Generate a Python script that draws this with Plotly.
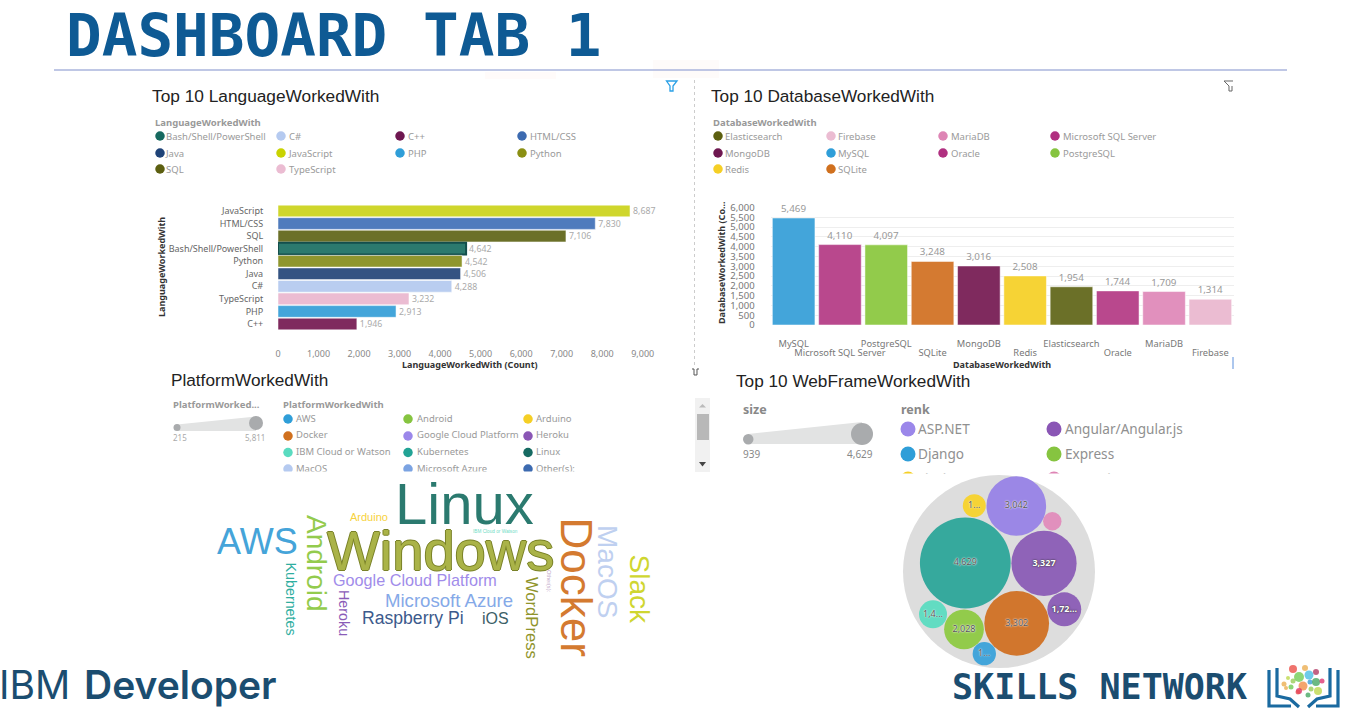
import plotly.graph_objects as go

W, H = 1354, 717
SANS = "Noto Sans"
CLOUD = "Liberation Sans"

# ---- data ----
lang_names = ["JavaScript", "HTML/CSS", "SQL", "Bash/Shell/PowerShell", "Python", "Java", "C#", "TypeScript", "PHP", "C++"]
lang_values = [8687, 7830, 7106, 4642, 4542, 4506, 4288, 3232, 2913, 1946]
lang_colors = ["#cfd62c", "#4f7bbd", "#6b7028", "#2c7a6e", "#8f962e", "#345382", "#b9cdf0", "#ebbcd2", "#43a5da", "#7f2a5e"]

db_names = ["MySQL", "Microsoft SQL Server", "PostgreSQL", "SQLite", "MongoDB", "Redis", "Elasticsearch", "Oracle", "MariaDB", "Firebase"]
db_values = [5469, 4110, 4097, 3248, 3016, 2508, 1954, 1744, 1709, 1314]
db_colors = ["#43a5da", "#b9488d", "#92cb4b", "#d47a31", "#7f2a5e", "#f6d335", "#6b7028", "#b9488d", "#e190bd", "#ebbcd2"]

lang_legend = ["Bash/Shell/PowerShell", "C#", "C++", "HTML/CSS", "Java", "JavaScript", "PHP", "Python", "SQL", "TypeScript"]
lang_legend_colors = ["#16695f", "#b5caf0", "#6e1750", "#3c6ab0", "#1f4378", "#c9d300", "#2f9ed8", "#8a8f13", "#5c5f10", "#ebbcd2"]
db_legend = ["Elasticsearch", "Firebase", "MariaDB", "Microsoft SQL Server", "MongoDB", "MySQL", "Oracle", "PostgreSQL", "Redis", "SQLite"]
db_legend_colors = ["#5c5f10", "#ebbcd2", "#de85b5", "#b03080", "#6e1750", "#2f9ed8", "#b03080", "#86c440", "#f5cf25", "#d0701e"]
platform_legend = ["AWS", "Android", "Arduino", "Docker", "Google Cloud Platform", "Heroku", "IBM Cloud or Watson", "Kubernetes", "Linux", "MacOS", "Microsoft Azure", "Other(s):"]
platform_legend_colors = ["#2f9ed8", "#86c440", "#f5cf25", "#d0701e", "#9b87ea", "#8a56b5", "#5adbc0", "#22a395", "#166a62", "#b5caf0", "#7ba3e2", "#3c6ab0"]
web_legend = ["ASP.NET", "Angular/Angular.js", "Django", "Express", "Flask", "Laravel"]
web_legend_colors = ["#9b87ea", "#8a56b5", "#2f9ed8", "#86c440", "#f5cf25", "#de85b5"]

cloud_words = ["Linux", "Windows", "AWS", "Android", "Docker", "MacOS", "Slack", "Arduino", "IBM Cloud or Watson",
               "Google Cloud Platform", "Microsoft Azure", "Raspberry Pi", "iOS", "Kubernetes", "Heroku", "WordPress", "Other(s):"]
cloud_sizes = [58, 56, 36, 28, 44, 28, 28, 11, 4.7, 16.2, 18.6, 17.6, 16, 14.3, 14.3, 16.6, 5.6]
cloud_colors = ["#2b7a6f", "#aab348", "#45a4d9", "#93cb4d", "#d47a30", "#bfd0f0", "#cfd630", "#f7d23c", "#6fdcc6",
                "#a18cea", "#85a9e8", "#3c5a8c", "#3d6068", "#2fae9f", "#8a5cb8", "#8f942b", "#c0a8c8"]
cloud_angles = [0, 0, 0, 90, 90, 90, 90, 0, 0, 0, 0, 0, 0, 90, 90, 90, 90]
cloud_x = [464, 440.5, 257, 316.5, 576.5, 607.5, 639.5, 368.5, 496, 414.5, 448.5, 413, 495.5, 291, 344, 532, 549]
cloud_y = [503, 550.5, 541, 563.5, 587, 571.5, 589, 517, 531.5, 580, 600.5, 618, 618, 598.5, 613, 618, 581]

web_labels = ["4,629", "3,327", "3,302", "3,042", "2,028", "1,72...", "1,4...", "1...", "1...", ""]
web_values = [4629, 3327, 3302, 3042, 2028, 1727, 1428, 1190, 1173, 939]
web_colors = ["#36a99d", "#8f63b8", "#d1762d", "#9b87e6", "#92cb4b", "#8f63b8", "#62dcc2", "#43a5da", "#f6d335", "#e190bd"]
web_cx = [965.3, 1044, 1016.7, 1016.3, 964, 1064.3, 933, 984.3, 974.3, 1052.3]
web_cy = [563, 563.3, 623.3, 506, 629.3, 609.3, 614.3, 653.7, 505.7, 521.3]

logo_x = [1293, 1305, 1316, 1293, 1299, 1309, 1284, 1286, 1291, 1303, 1310, 1316, 1322, 1299, 1311, 1318, 1308, 1298, 1288]
logo_y = [669, 668, 672, 681, 677, 675, 684, 688, 687, 686, 682, 682, 681, 691, 689, 691, 695, 692, 678]
logo_d = [8, 6, 6, 5, 10, 9, 5, 4, 5, 9, 5, 8, 5, 6, 5, 8, 5, 5, 4]
logo_c = ["#e8382f", "#e8a33a", "#a81f4f", "#8cc63f", "#5cc43c", "#30b5e0", "#e8a33a", "#e8a33a", "#5cc43c", "#ef7f2f", "#1f8fd0",
          "#2e9b4f", "#d81b60", "#d81b60", "#8cc63f", "#b5d334", "#2e9b4f", "#e84a4a", "#b5d334"]


def px(x): return x / W
def py(y): return 1 - y / H


fig = go.Figure()
annotations, shapes = [], []


def text(x, y, s, size=9, color="#999", xa="left", ya="middle", family=SANS, angle=0, weight=None, shadow=None):
    f = dict(size=size, color=color, family=family)
    if weight: f["weight"] = weight
    if shadow: f["shadow"] = shadow
    annotations.append(dict(x=px(x), y=py(y), xref="paper", yref="paper", text=s, showarrow=False,
                            xanchor=xa, yanchor=ya, textangle=angle, font=f, borderpad=0, borderwidth=0))


def path(d, color=None, fill=None, lw=1, dash=None, layer="above"):
    shapes.append(dict(type="path", xref="paper", yref="paper", path=d, layer=layer,
                       line=dict(color=color or "rgba(0,0,0,0)", width=lw, dash=dash), fillcolor=fill or "rgba(0,0,0,0)"))


def P(*pts):
    return "M" + " L".join(f"{px(a):.5f},{py(b):.5f}" for a, b in pts)


def rect(x0, y0, x1, y1, fill, layer="below"):
    shapes.append(dict(type="rect", xref="paper", yref="paper", x0=px(x0), x1=px(x1), y0=py(y0), y1=py(y1),
                       fillcolor=fill, line=dict(width=0), layer=layer))


def pane_axes(n, x0, y0, x1, y1):
    hidden = dict(visible=False, fixedrange=True)
    return {f"xaxis{n}": dict(domain=[px(x0), px(x1)], range=[x0, x1], anchor=f"y{n}", **hidden),
            f"yaxis{n}": dict(domain=[py(y1), py(y0)], range=[y1, y0], anchor=f"x{n}", **hidden)}


layout_axes = {}
CANVAS, PLAT, WEB = 4, 5, 6
layout_axes.update(pane_axes(CANVAS, 0, 0, W, H))
layout_axes.update(pane_axes(PLAT, 280, 411, 690, 471.5))
layout_axes.update(pane_axes(WEB, 900, 420, 1200, 473.5))


def legend(names, colors, sx, tx, sy, ty, n, size=9.5, msize=9.5, tcolor="#9a9a9a"):
    cols = len(sx)
    xs = [sx[i % cols] for i in range(len(names))]
    ys = [sy[i // cols] for i in range(len(names))]
    xt = [tx[i % cols] for i in range(len(names))]
    yt = [ty[i // cols] for i in range(len(names))]
    fig.add_trace(go.Scatter(x=xs, y=ys, mode="markers", marker=dict(size=msize, color=colors, line=dict(width=0)),
                             xaxis=f"x{n}", yaxis=f"y{n}", showlegend=False, hoverinfo="skip"))
    fig.add_trace(go.Scatter(x=xt, y=yt, mode="text", text=names, textposition="middle right",
                             textfont=dict(size=size, color=tcolor, family=SANS),
                             xaxis=f"x{n}", yaxis=f"y{n}", showlegend=False, hoverinfo="skip"))


# ---- bars: languages ----
fig.add_trace(go.Bar(y=lang_names, x=lang_values, orientation="h", width=0.93,
                     marker=dict(color=lang_colors,
                                 line=dict(color=["#144f4c" if n == "Bash/Shell/PowerShell" else "rgba(255,255,255,0.5)" for n in lang_names],
                                           width=[2 if n == "Bash/Shell/PowerShell" else 1 for n in lang_names])),
                     text=lang_values, texttemplate="%{x:,}", textposition="outside", cliponaxis=False,
                     textfont=dict(size=10.5, color="#aaa", family=SANS), showlegend=False, xaxis="x", yaxis="y"))

# ---- bars: databases (two staggered label rows) ----
db_odd = list(range(0, 10, 2))
db_even = list(range(1, 10, 2))
for idx, xa in ((db_odd, "x2"), (db_even, "x3")):
    fig.add_trace(go.Bar(x=[db_names[i] for i in idx], y=[db_values[i] for i in idx], width=0.92,
                         marker=dict(color=[db_colors[i] for i in idx], line=dict(color="rgba(255,255,255,0.5)", width=1)),
                         text=[db_values[i] for i in idx], texttemplate="%{y:,}", textposition="outside", cliponaxis=False,
                         textfont=dict(size=9.8, color="#999", family=SANS), showlegend=False, xaxis=xa, yaxis="y2"))

tickfont = dict(size=9.3, color="#777", family=SANS)
clear = "rgba(0,0,0,0)"
layout_axes.update(
    xaxis=dict(domain=[px(278), px(642.7)], range=[0, 9000], dtick=1000, tickformat=",", anchor="y", showgrid=False, zeroline=False,
               ticks="outside", ticklen=15, tickcolor=clear, tickfont=dict(size=9, color="#888", family=SANS), showline=False),
    yaxis=dict(domain=[py(330.3), py(204.7)], type="category", categoryorder="array", categoryarray=lang_names, range=[9.5, -0.5],
               anchor="x", ticks="outside", ticklen=12, tickcolor=clear, tickfont=dict(size=9, color="#666", family=SANS),
               showgrid=False, zeroline=False, showline=False),
    xaxis2=dict(domain=[px(770.5), px(1233.5)], type="category", categoryorder="array", categoryarray=db_names, range=[-0.5, 9.5],
                anchor="y2", tickvals=[db_names[i] for i in db_odd], ticks="outside", ticklen=10, tickcolor=clear, tickangle=0,
                tickfont=tickfont, showgrid=False, zeroline=False, showline=False),
    xaxis3=dict(domain=[px(770.5), px(1233.5)], type="category", categoryorder="array", categoryarray=db_names, range=[-0.5, 9.5],
                anchor="y2", overlaying="x2", tickvals=[db_names[i] for i in db_even], ticks="outside", ticklen=19, tickcolor=clear, tickangle=0,
                tickfont=tickfont, showgrid=False, zeroline=False, showline=False),
    yaxis2=dict(domain=[py(325), py(207.6)], range=[0, 6000], dtick=500, tickformat=",", anchor="x2", ticks="outside", ticklen=13,
                tickcolor=clear, tickfont=dict(size=9.5, color="#777", family=SANS), showgrid=True, gridcolor="#eeeeee", gridwidth=1,
                zeroline=False, showline=False),
)

# ---- legends ----
legend(lang_legend, lang_legend_colors, [160, 281, 400, 522], [166, 289, 408, 530], [136, 153, 169], [138, 155, 171], CANVAS)
legend(db_legend, db_legend_colors, [718, 831, 943, 1055], [725, 838, 951, 1063], [136, 153, 169], [138, 155, 171], CANVAS)
legend(platform_legend, platform_legend_colors, [288, 408, 528], [296, 417, 536], [419, 436, 452.5, 469], [420, 436, 453, 469.5], PLAT)
legend(web_legend, web_legend_colors, [908, 1054], [918, 1065], [429, 454, 479], [430.5, 455.5, 480.5], WEB, size=13.6, msize=15, tcolor="#909090")

# ---- packed circles ----
shapes.append(dict(type="circle", xref="paper", yref="paper", x0=px(903), x1=px(1095), y0=py(475), y1=py(668),
                   fillcolor="#dddddd", line=dict(width=0), layer="below"))
light = "0 0 2px #ffffff, 0 0 1px #ffffff"
dark = "0 0 2px #333333, 0 0 1px #333333"
fig.add_trace(go.Scatter(x=web_cx, y=web_cy, mode="markers+text", text=web_labels, textposition="middle center",
                         marker=dict(size=web_values, sizemode="diameter", sizeref=51.0, color=web_colors, line=dict(width=0), opacity=1),
                         textfont=dict(size=9, family=SANS,
                                       color=["#ffffff" if s in ("3,327", "1,72...") else "#555555" for s in web_labels],
                                       weight=["bold" if s in ("3,327", "1,72...") else "normal" for s in web_labels],
                                       shadow=[dark if s in ("3,327", "1,72...") else light for s in web_labels]),
                         xaxis=f"x{CANVAS}", yaxis=f"y{CANVAS}", showlegend=False, hovertemplate="%{marker.size:,}<extra></extra>"))

# ---- word cloud ----
outline = "#7a8228"
for w, s, c, a, x, y in zip(cloud_words, cloud_sizes, cloud_colors, cloud_angles, cloud_x, cloud_y):
    text(x, y, w, size=s, color=c, xa="center", family=CLOUD, angle=a,
         shadow=f"1px 0 0 {outline}, -1px 0 0 {outline}, 0 1px 0 {outline}, 0 -1px 0 {outline}" if w == "Windows" else None)

# ---- logo dots ----
fig.add_trace(go.Scatter(x=logo_x, y=logo_y, mode="markers", marker=dict(size=logo_d, color=logo_c, line=dict(width=0)),
                         xaxis=f"x{CANVAS}", yaxis=f"y{CANVAS}", showlegend=False, hoverinfo="skip"))

# ---- page furniture ----
text(66, 35.5, "DASHBOARD TAB 1", size=59.3, color="#0e5a94", family="DejaVu Sans Mono", weight="bold")
path(P((54, 70), (1287, 70)), color="#aab5dc", lw=1.5)
rect(485, 72, 556, 79, "#fffbfa")
rect(653, 60, 719, 78, "#fefbfa")

text(152, 96, "Top 10 LanguageWorkedWith", size=17.3, color="#222", family=CLOUD)
text(711, 96, "Top 10 DatabaseWorkedWith", size=17.2, color="#222", family=CLOUD)
text(171, 380, "PlatformWorkedWith", size=17.2, color="#222", family=CLOUD)
text(736, 381, "Top 10 WebFrameWorkedWith", size=17.2, color="#222", family=CLOUD)

text(155, 122, "<b>LanguageWorkedWith</b>", size=9.5, color="#999")
text(713, 122, "<b>DatabaseWorkedWith</b>", size=9.5, color="#999")
text(173, 404, "<b>PlatformWorked...</b>", size=9.5, color="#999")
text(283, 404, "<b>PlatformWorkedWith</b>", size=9.5, color="#999")
text(743, 409, "<b>size</b>", size=12.5, color="#888")
text(901, 409, "<b>renk</b>", size=12.5, color="#888")

text(470, 364, "<b>LanguageWorkedWith (Count)</b>", size=9, color="#333", xa="center")
text(1002, 364, "<b>DatabaseWorkedWith</b>", size=9, color="#333", xa="center")
text(161, 267, "<b>LanguageWorkedWith</b>", size=9, color="#333", xa="center", angle=-90)
text(721, 263, "<b>DatabaseWorkedWith (Co...</b>", size=9, color="#333", xa="center", angle=-90)

# size keys
path(P((177, 424.5), (256, 416.5), (256, 431), (177, 431)) + " Z", fill="#e2e3e3")
shapes.append(dict(type="circle", xref="paper", yref="paper", x0=px(173.5), x1=px(180.5), y0=py(424), y1=py(431), fillcolor="#a9abad", line=dict(width=0)))
shapes.append(dict(type="circle", xref="paper", yref="paper", x0=px(249), x1=px(263), y0=py(416), y1=py(430), fillcolor="#a9abad", line=dict(width=0)))
text(173, 437, "215", size=8, color="#aaa")
text(265, 437, "5,811", size=8, color="#aaa", xa="right")
path(P((748, 434), (862, 422), (862, 444), (748, 444)) + " Z", fill="#e2e3e3")
shapes.append(dict(type="circle", xref="paper", yref="paper", x0=px(743), x1=px(753.5), y0=py(434), y1=py(444.5), fillcolor="#a9abad", line=dict(width=0)))
shapes.append(dict(type="circle", xref="paper", yref="paper", x0=px(851), x1=px(873), y0=py(423), y1=py(445), fillcolor="#a9abad", line=dict(width=0)))
text(743, 454, "939", size=10, color="#888")
text(873, 454, "4,629", size=10, color="#888", xa="right")

# divider, scrollbar, icons
path(P((694.5, 80), (694.5, 368)), color="#cccccc", lw=1, dash="3px,3px")
path(P((692, 369), (694, 369), (694, 375), (697, 375), (697, 369), (699, 369)), color="#555", lw=1)
rect(695, 398, 710, 472, "#f1f1f1")
rect(697, 414, 709, 440, "#b8b8b8")
path(P((699, 407.5), (706, 407.5), (702.5, 404)) + " Z", fill="#bbbbbb")
path(P((699, 462), (706, 462), (702.5, 466.5)) + " Z", fill="#444444")
path(P((666.5, 81), (677, 81), (673, 86), (673, 91), (670, 91), (670, 86)) + " Z", color="#2aa0e6", lw=1.3)
path(P((1224, 81), (1233, 81)), color="#666", lw=1)
path(P((1224, 81), (1229, 86), (1229, 91), (1232, 91), (1232, 86)), color="#666", lw=1)
path(P((1233, 357), (1233, 369)), color="#5b8fdc", lw=1)

# logos
text(-1, 684, "IBM", size=39, color="#1b4d70", family="Inter", weight=400)
text(84, 684, "Developer", size=39, color="#1b4d70", family="Inter", weight=600)
text(952, 687, "SKILLS NETWORK", size=35, color="#1b4d70", family="DejaVu Sans Mono", weight="bold")
book = "#1a6aa0"
path(P((1269, 670), (1269, 706), (1291, 706)), color=book, lw=3.2)
path(P((1277, 668), (1277, 696), (1290, 699), (1299, 707)), color=book, lw=3.2)
path(P((1338, 670), (1338, 706), (1316, 706)), color=book, lw=3.2)
path(P((1330, 668), (1330, 696), (1317, 699), (1308, 707)), color=book, lw=3.2)

fig.update_layout(width=W, height=H, margin=dict(l=0, r=0, t=0, b=0, autoexpand=False), paper_bgcolor="#ffffff", plot_bgcolor=clear,
                  showlegend=False, barmode="overlay", annotations=annotations, shapes=shapes, font=dict(family=SANS), **layout_axes)
fig.write_html("out.html", config=dict(displayModeBar=False),
               post_script="document.body.style.margin='0';document.documentElement.style.overflow='hidden';")
